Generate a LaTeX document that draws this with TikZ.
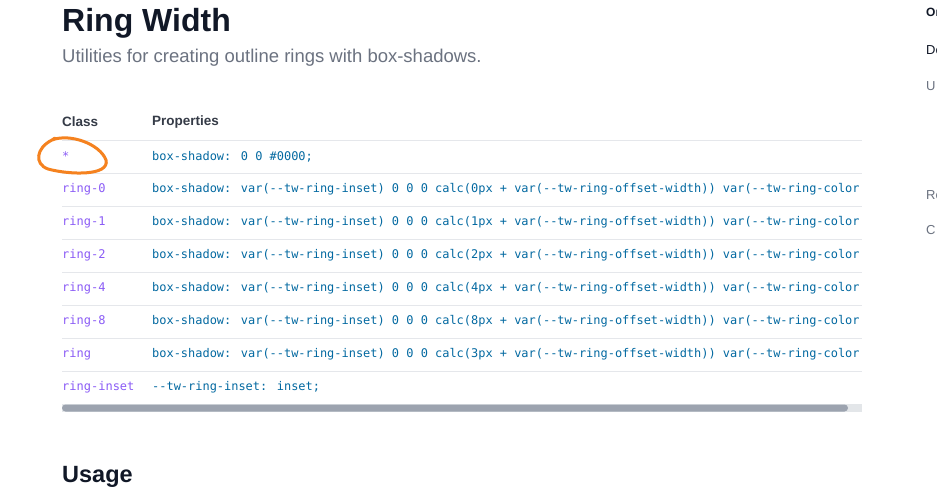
\documentclass[tikz,border=0pt]{standalone}
\usepackage{fontspec}
\setmainfont{Liberation Sans}
\newfontfamily\codefont{DejaVu Sans Mono}
\usetikzlibrary{positioning}
\definecolor{headc}{HTML}{111827}
\definecolor{subc}{HTML}{6B7280}
\definecolor{rulec}{HTML}{E5E7EB}
\definecolor{classc}{HTML}{8B5CF6}
\definecolor{propc}{HTML}{0369A1}
\definecolor{scrollc}{HTML}{9CA3AF}
\definecolor{trackc}{HTML}{D1D5DB}
\definecolor{markc}{HTML}{F5821F}
\tikzset{
    cls/.style={anchor=west, inner sep=0pt, text=classc, font=\codefont\fontsize{12}{12}\selectfont},
    prop/.style={anchor=west, inner sep=0pt, text=propc, font=\codefont\fontsize{11.95}{12}\selectfont},
    colhead/.style={anchor=west, inner sep=0pt, text=headc!85, font=\bfseries\fontsize{13.5}{13}\selectfont},
    side/.style={anchor=west, inner sep=0pt, text=subc, font=\fontsize{13}{13}\selectfont}
}
\begin{document}
\begin{tikzpicture}[x=1pt, y=-1pt]
    \useasboundingbox[fill=white] (0,0) rectangle (937,497);
    \node[anchor=west, inner sep=0pt, text=headc, font=\bfseries\fontsize{32}{32}\selectfont] (title) at (62,23) {Ring Width};
    \node[anchor=west, inner sep=0pt, text=subc, font=\fontsize{18.5}{18}\selectfont] (subtitle) at (62,58) {Utilities for creating outline rings with box-shadows.};
    \node[colhead] (hclass) at (62,122) {Class};
    \node[colhead] (hprop) at (152,122) {Properties};
    % table rows
    \foreach \y in {140,173,206,239,272,305,338,371}
        \draw[rulec] (62,\y) -- (862,\y);
    \node[cls] (c0) at (62,156.5) {*};
    \node[prop] (p0) at (152,156.5) {box-shadow: 0 0 \#0000;};
    \foreach \n/\w [count=\i] in {ring-0/0px,ring-1/1px,ring-2/2px,ring-4/4px,ring-8/8px,ring/3px}
        \node[prop] (p\i) at (152,156.5+33*\i) {box-shadow: var(--tw-ring-inset) 0 0 0 calc(\w\ + var(--tw-ring-offset-width)) var(--tw-ring-color}
        node[cls] (c\i) at (62,156.5+33*\i) {\n};
    \node[cls] (c7) at (62,387.5) {ring-inset};
    \node[prop] (p7) at (152,387.5) {--tw-ring-inset: inset;};
    % scrollbar
    \fill[trackc!60] (62,404) rectangle (862,412);
    \fill[scrollc, rounded corners=3.5pt] (62,404.5) rectangle (848,411.5);
    \node[anchor=west, inner sep=0pt, text=headc, font=\bfseries\fontsize{23.5}{23}\selectfont] (usage) at (62,477) {Usage};
    % side menu
    \begin{scope}
        \clip (900,0) rectangle (937,497);
        \node[side, text=headc, font=\bfseries\fontsize{12}{12}\selectfont] (s1) at (926,12) {On};
        \node[side, text=headc, font=\fontsize{13}{13}\selectfont] (s2) at (926,50) {De};
        \node[side] (s3) at (926,86) {U};
        \node[side] (s4) at (926,195) {Re};
        \node[side] (s5) at (926,230) {C};
    \end{scope}
    % orange mark
    \draw[markc, line width=3pt, line cap=round] (52,140) .. controls (70,133) and (100,144) .. (106,160)
        .. controls (110,176) and (70,175) .. (48,169) .. controls (34,164) and (36,148) .. (52,140) -- (55,138);
\end{tikzpicture}
\end{document}
